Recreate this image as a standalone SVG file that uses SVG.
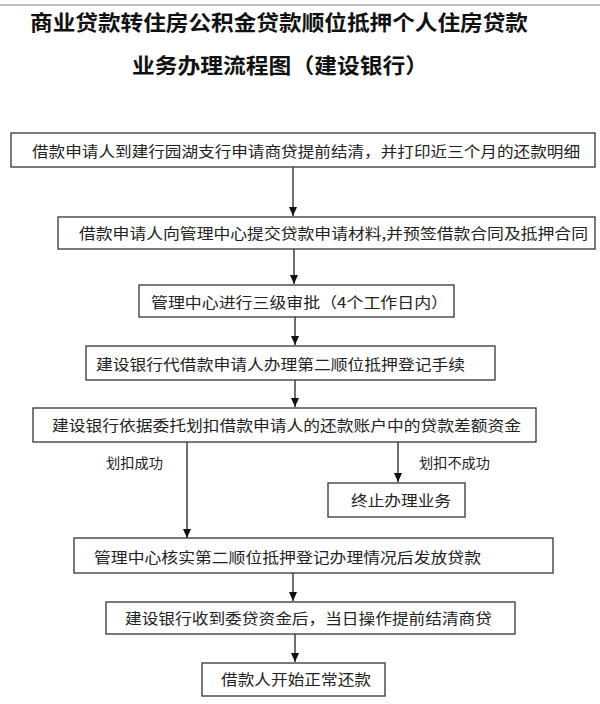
<svg xmlns="http://www.w3.org/2000/svg" width="600" height="704" viewBox="0 0 600 704">
<style>
.box{fill:#fff;stroke:#333;stroke-width:1.3}
.t{font-family:"Noto Sans CJK SC","Noto Sans",sans-serif;font-size:15px;fill:#222}
.lb{font-family:"Noto Sans CJK SC","Noto Sans",sans-serif;font-size:13.5px;fill:#222}
.title{font-family:"Noto Sans CJK SC","Noto Sans",sans-serif;font-size:21px;font-weight:bold;fill:#111}
.c{stroke:#222;stroke-width:1.3;fill:none;marker-end:url(#ah)}
</style>
<defs>
<marker id="ah" markerWidth="9" markerHeight="8" refX="9" refY="4" orient="auto" markerUnits="userSpaceOnUse" viewBox="0 0 9 8">
<path d="M0,0 L9,4 L0,8 Z" fill="#111"/>
</marker>
</defs>
<rect width="600" height="704" fill="#fff"/>
<line x1="0" y1="5" x2="600" y2="5" stroke="#aaa" stroke-width="1.5"/>
<g id="title">
<text class="title" x="30" y="30" textLength="498" lengthAdjust="spacingAndGlyphs">商业贷款转住房公积金贷款顺位抵押个人住房贷款</text>
<text class="title" x="132" y="73" textLength="296" lengthAdjust="spacingAndGlyphs">业务办理流程图（建设银行）</text>
</g>
<g id="connectors">
<line class="c" x1="293" y1="167" x2="293" y2="216"/>
<line class="c" x1="294" y1="249" x2="294" y2="284"/>
<line class="c" x1="295" y1="317" x2="295" y2="345"/>
<line class="c" x1="295" y1="380" x2="295" y2="407"/>
<line class="c" x1="187" y1="442" x2="187" y2="538"/>
<line class="c" x1="398" y1="442" x2="398" y2="482"/>
<line class="c" x1="293" y1="573" x2="293" y2="601"/>
<line class="c" x1="295" y1="634" x2="295" y2="662"/>
<text class="lb" x="106" y="468" textLength="57" lengthAdjust="spacingAndGlyphs">划扣成功</text>
<text class="lb" x="419" y="468" textLength="71" lengthAdjust="spacingAndGlyphs">划扣不成功</text>
</g>
<g id="n1"><rect class="box" x="11" y="133" width="584" height="34"/><text class="t" x="32" y="157" textLength="548" lengthAdjust="spacingAndGlyphs">借款申请人到建行园湖支行申请商贷提前结清，并打印近三个月的还款明细</text></g>
<g id="n2"><rect class="box" x="58" y="217" width="537" height="32"/><text class="t" x="79" y="239" textLength="509" lengthAdjust="spacingAndGlyphs">借款申请人向管理中心提交贷款申请材料,并预签借款合同及抵押合同</text></g>
<g id="n3"><rect class="box" x="139" y="285" width="315" height="32"/><text class="t" x="151" y="308" textLength="297" lengthAdjust="spacingAndGlyphs">管理中心进行三级审批（4个工作日内）</text></g>
<g id="n4"><rect class="box" x="86" y="346" width="409" height="34"/><text class="t" x="96" y="370" textLength="369" lengthAdjust="spacingAndGlyphs">建设银行代借款申请人办理第二顺位抵押登记手续</text></g>
<g id="n5"><rect class="box" x="33" y="408" width="503" height="34"/><text class="t" x="52" y="431" textLength="469" lengthAdjust="spacingAndGlyphs">建设银行依据委托划扣借款申请人的还款账户中的贷款差额资金</text></g>
<g id="n6"><rect class="box" x="328" y="483" width="137" height="34"/><text class="t" x="351" y="506" textLength="100" lengthAdjust="spacingAndGlyphs">终止办理业务</text></g>
<g id="n7"><rect class="box" x="74" y="538" width="479" height="35"/><text class="t" x="94" y="563" textLength="387" lengthAdjust="spacingAndGlyphs">管理中心核实第二顺位抵押登记办理情况后发放贷款</text></g>
<g id="n8"><rect class="box" x="106" y="602" width="409" height="32"/><text class="t" x="125" y="624" textLength="367" lengthAdjust="spacingAndGlyphs">建设银行收到委贷资金后，当日操作提前结清商贷</text></g>
<g id="n9"><rect class="box" x="202" y="663" width="183" height="33"/><text class="t" x="221" y="685" textLength="150" lengthAdjust="spacingAndGlyphs">借款人开始正常还款</text></g>
</svg>
